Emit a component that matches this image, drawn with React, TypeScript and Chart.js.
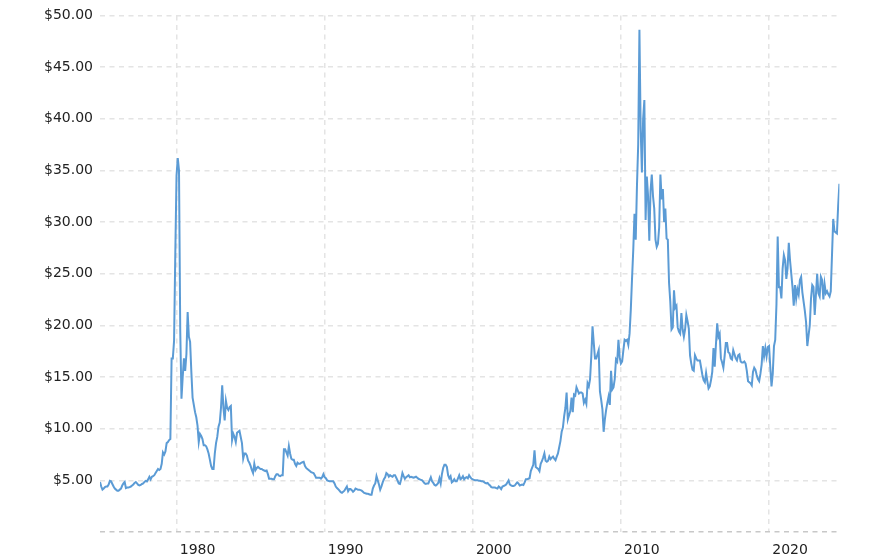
import { useEffect, useRef } from "react";
import { Chart, registerables } from "chart.js";

Chart.register(...registerables);

// Monthly silver price (USD/oz), first value = November 1974
const startYear = 1974;
const startMonth = 10; // 0-based: November

const prices1970s = [
  4.84, 4.4,
  4.1, 4.2, 4.35, 4.4, 4.4, 4.6, 4.95, 4.9, 4.65, 4.4, 4.2, 4.1,
  4.0, 4.0, 4.1, 4.2, 4.5, 4.7, 4.84, 4.25, 4.3, 4.3, 4.35, 4.4,
  4.5, 4.6, 4.75, 4.84, 4.7, 4.55, 4.5, 4.55, 4.65, 4.7, 4.85, 4.95,
  4.9, 5.1, 5.35, 5.1, 5.35, 5.4, 5.5, 5.7, 5.9, 6.1, 6.0, 6.1,
  6.6, 7.7, 7.5, 7.8, 8.6, 8.7, 8.9, 9.0, 16.8, 16.8, 18.5, 27.0,
];

const prices1980s = [
  34.5, 36.2, 35.0, 19.5, 12.9, 15.0, 16.8, 15.6, 17.2, 21.3, 18.9, 18.4,
  15.5, 13.0, 12.3, 11.6, 11.1, 10.3, 8.7, 9.5, 9.3, 9.0, 8.4, 8.4,
  8.3, 8.0, 7.6, 7.0, 6.4, 6.1, 6.1, 7.6, 8.6, 9.2, 10.2, 10.6,
  12.0, 14.2, 12.0, 10.8, 12.7, 12.0, 11.8, 12.1, 12.2, 8.9, 9.5, 9.2,
  8.7, 9.6, 9.7, 9.8, 9.2, 8.6, 7.1, 7.6, 7.6, 7.4, 6.9, 6.7,
  6.4, 6.0, 5.7, 6.6, 6.0, 6.2, 6.3, 6.2, 6.1, 6.1, 6.0, 5.95,
  5.9, 5.95, 5.6, 5.15, 5.15, 5.15, 5.1, 5.1, 5.4, 5.6, 5.6, 5.45,
  5.4, 5.5, 5.5, 8.0, 8.0, 7.7, 7.4, 8.3, 7.6, 7.1, 7.0, 7.0,
  6.6, 6.4, 6.7, 6.6, 6.6, 6.7, 6.75, 6.8, 6.4, 6.2, 6.1, 6.0,
  5.9, 5.8, 5.75, 5.7, 5.5, 5.26, 5.26, 5.25, 5.25, 5.17, 5.3, 5.6,
];

const prices1990s = [
  5.3, 5.2, 5.0, 4.95, 4.9, 4.9, 4.9, 4.9, 4.7, 4.4, 4.25, 4.15,
  4.0, 3.85, 3.8, 3.9, 4.0, 4.2, 4.4, 3.95, 4.15, 4.15, 4.05, 3.9,
  4.0, 4.2, 4.15, 4.1, 4.1, 4.05, 4.0, 3.9, 3.78, 3.75, 3.7, 3.7,
  3.65, 3.6, 3.6, 4.2, 4.5, 4.7, 5.4, 5.0, 4.6, 4.1, 4.4, 4.8,
  5.1, 5.3, 5.7, 5.6, 5.35, 5.5, 5.4, 5.35, 5.5, 5.5, 5.25, 5.0,
  4.7, 4.65, 5.1, 5.7, 5.4, 5.15, 5.3, 5.4, 5.5, 5.3, 5.35, 5.3,
  5.25, 5.3, 5.35, 5.25, 5.15, 5.1, 5.05, 5.0, 4.85, 4.7, 4.65, 4.7,
  4.7, 5.0, 5.3, 4.9, 4.75, 4.55, 4.5, 4.6, 4.75, 5.2, 4.7, 5.6,
  6.2, 6.5, 6.5, 6.3, 5.5, 5.2, 5.4, 4.8, 4.9, 5.1, 4.9, 4.9,
  5.2, 5.5, 5.1, 5.2, 5.4, 5.1, 5.25, 5.3, 5.2, 5.5, 5.3, 5.15,
];

const prices2000s = [
  5.1, 5.05, 5.0, 5.0, 5.0, 4.95, 4.95, 4.9, 4.9, 4.85, 4.75, 4.7,
  4.75, 4.6, 4.5, 4.35, 4.3, 4.3, 4.3, 4.25, 4.2, 4.4, 4.3, 4.15,
  4.4, 4.45, 4.5, 4.6, 4.8, 5.0, 4.6, 4.5, 4.45, 4.45, 4.5, 4.65,
  4.8, 4.7, 4.5, 4.55, 4.6, 4.55, 4.8, 5.1, 5.1, 5.15, 5.2, 5.9,
  6.2, 6.5, 7.9, 6.3, 6.2, 6.1, 5.9, 6.6, 6.85, 7.2, 7.6, 6.9,
  6.8, 6.9, 7.3, 7.05, 7.2, 7.3, 7.1, 6.95, 7.3, 7.6, 8.2, 8.8,
  9.7, 10.1, 11.2, 12.0, 13.5, 10.9, 11.3, 11.7, 13.0, 11.6, 13.3, 13.2,
  14.0, 13.7, 13.4, 13.5, 13.5, 13.4, 12.5, 12.8, 12.4, 14.4, 14.1, 14.8,
  17.0, 19.9, 18.3, 16.8, 16.8, 17.2, 17.6, 13.6, 12.8, 11.9, 9.7, 10.9,
  11.8, 12.5, 13.1, 12.3, 15.6, 13.8, 14.0, 14.8, 16.7, 16.5, 18.6, 16.9,
];

const prices2010s = [
  16.3, 16.5, 17.6, 18.6, 18.5, 18.6, 18.1, 19.2, 21.5, 24.5, 27.3, 30.8,
  28.3, 33.5, 37.5, 48.6, 39.0, 34.8, 40.0, 41.8, 30.2, 34.4, 32.5, 28.2,
  33.0, 34.6, 32.5, 31.3, 28.3, 27.6, 27.9, 29.5, 34.6, 32.2, 33.2, 30.0,
  31.3, 28.4, 28.3, 24.1, 22.3, 19.6, 19.8, 23.4, 21.7, 21.9, 19.8, 19.4,
  19.2, 21.2, 19.6, 18.9, 19.6, 21.0, 20.4, 19.7, 17.1, 16.3, 15.7, 15.6,
  17.1, 16.8, 16.6, 16.6, 16.6, 15.9, 15.2, 14.7, 14.5, 15.4, 14.6, 13.9,
  14.1, 14.7, 15.5, 17.8, 16.0, 18.2, 20.2, 18.9, 19.2, 16.8, 16.4, 15.9,
  17.0, 18.3, 18.3, 17.4, 17.3, 16.8, 16.7, 17.6, 17.2, 16.8, 16.6, 17.1,
  17.2, 16.5, 16.4, 16.4, 16.5, 16.3, 15.6, 14.6, 14.5, 14.4, 14.2, 15.5,
  15.9, 15.7, 15.2, 14.8, 14.6, 15.3, 16.2, 18.0, 17.0, 17.8, 17.0, 17.9,
];

const prices2020s = [
  18.0, 16.0, 14.1, 15.3, 18.0, 18.6, 22.0, 28.6, 23.7, 23.7, 22.6, 25.5,
  26.8, 26.3, 24.5, 25.5, 28.0, 26.3, 25.0, 23.7, 21.9, 23.9, 22.6, 23.5,
  23.0, 24.4, 24.7, 23.2, 22.3, 21.4, 20.3, 18.0, 19.0, 20.0, 22.6, 23.9,
  23.7, 21.0, 23.0, 25.0, 23.1, 22.8, 24.7, 24.4, 22.5, 24.0, 23.1, 23.3,
  23.0, 22.8, 23.3, 26.8, 30.3, 29.1, 29.0, 28.9, 31.6, 33.7,
];

const xTickYears = [1980, 1990, 2000, 2010, 2020];
const yMin = 0;
const yMax = 50;
const yStep = 5;

const FONT = "'DejaVu Sans', Verdana, sans-serif";

export default function App() {
  const canvasRef = useRef<HTMLCanvasElement | null>(null);

  useEffect(() => {
    const prices = [
      ...prices1970s,
      ...prices1980s,
      ...prices1990s,
      ...prices2000s,
      ...prices2010s,
      ...prices2020s,
    ];
    const points = prices.map((p, i) => ({
      x: startYear + (startMonth + i) / 12,
      y: p,
    }));

    const chart = new Chart(canvasRef.current as HTMLCanvasElement, {
      type: "line",
      data: {
        datasets: [
          {
            data: points,
            borderColor: "#5b9bd5",
            backgroundColor: "#5b9bd5",
            borderWidth: 2,
            pointRadius: 0,
            tension: 0,
            fill: false,
          },
        ],
      },
      options: {
        animation: false,
        responsive: false,
        layout: { padding: { top: 15, right: 48.6, bottom: 0, left: 0 } },
        plugins: {
          legend: { display: false },
          tooltip: { enabled: false },
        },
        scales: {
          x: {
            type: "linear",
            min: points[0].x,
            max: points[points.length - 1].x,
            afterBuildTicks: (scale: any) => {
              scale.ticks = xTickYears.map((v) => ({ value: v }));
            },
            afterFit: (scale: any) => {
              scale.height = 28;
            },
            grid: { color: "#e4e4e4", lineWidth: 1.5, drawTicks: false },
            border: { display: false, dash: [5, 4.5] },
            ticks: {
              callback: (v: any) => String(v),
              labelOffset: 21,
              padding: 10,
              maxRotation: 0,
              autoSkip: false,
              color: "#222",
              font: { family: FONT, size: 14 },
            },
          },
          y: {
            min: yMin,
            max: yMax,
            afterFit: (scale: any) => {
              scale.width = 100;
            },
            grid: {
              color: (ctx: any) =>
                ctx.tick && ctx.tick.value === 0 ? "#c8c8c8" : "#e4e4e4",
              lineWidth: 1.5,
              drawTicks: false,
            },
            border: { display: false, dash: [5, 4.5] },
            ticks: {
              stepSize: yStep,
              padding: 7,
              color: "#222",
              font: { family: FONT, size: 14 },
              callback: (v: any) =>
                Number(v) === 0 ? "" : "$" + Number(v).toFixed(2),
            },
          },
        },
      },
    });

    return () => chart.destroy();
  }, []);

  return (
    <div
      style={{
        position: "fixed",
        left: 0,
        top: 0,
        width: 888,
        height: 560,
        background: "#ffffff",
      }}
    >
      <canvas
        ref={canvasRef}
        width={888}
        height={560}
        style={{ width: 888, height: 560, display: "block" }}
      />
    </div>
  );
}
